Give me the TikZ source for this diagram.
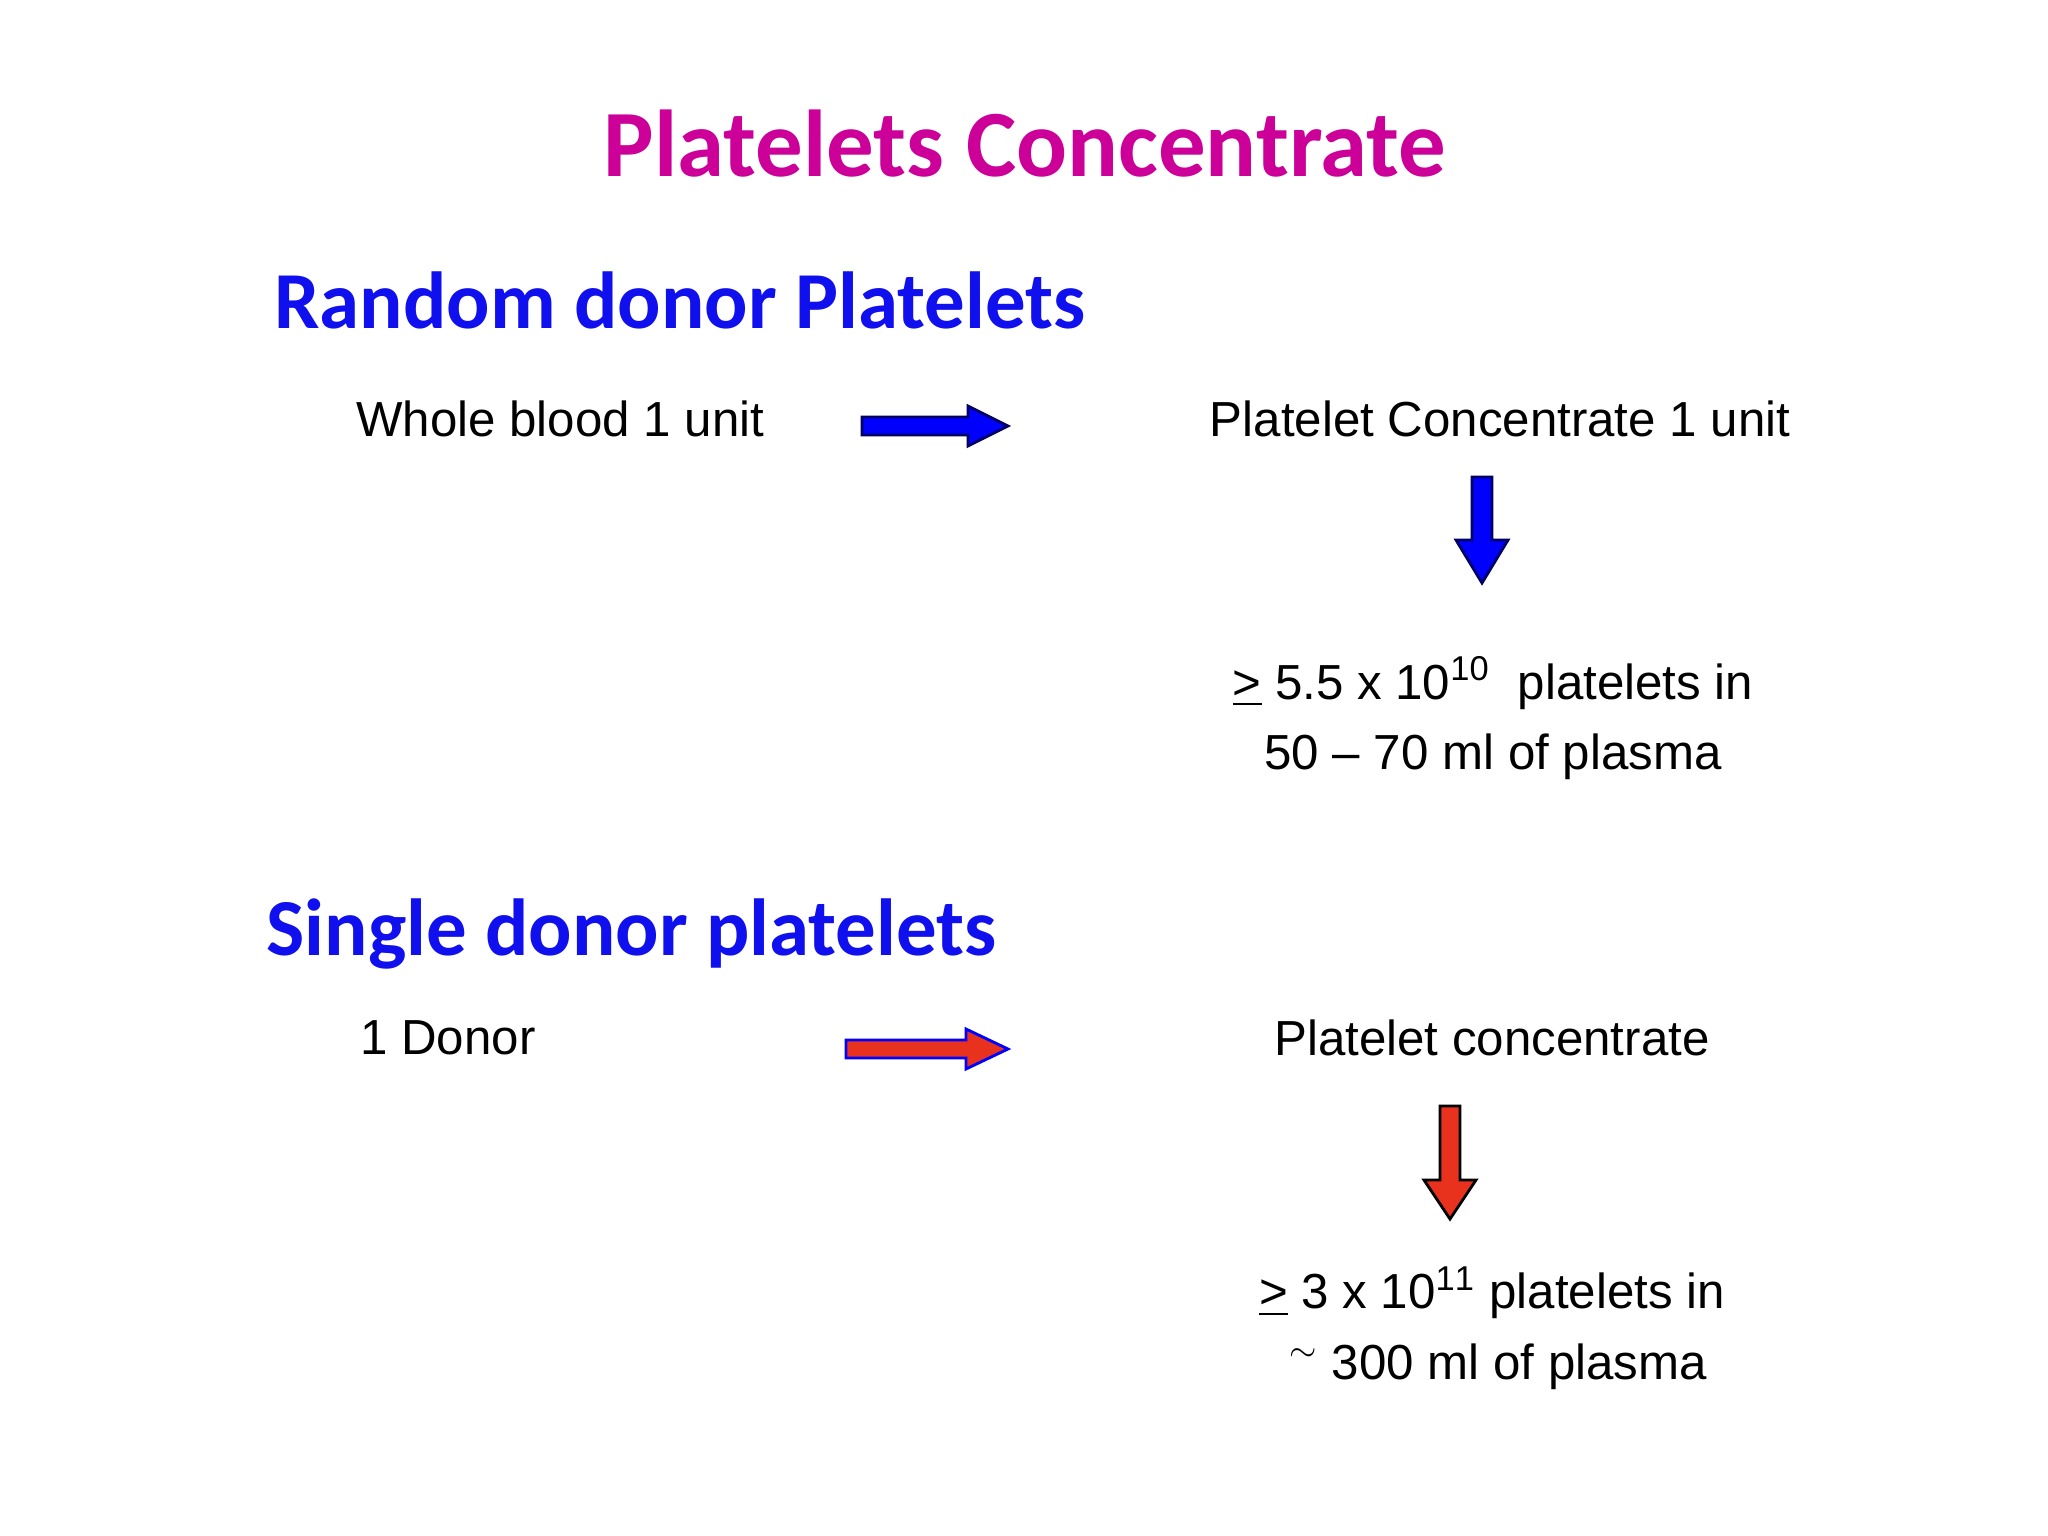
\documentclass[tikz,border=0pt]{standalone}
\usepackage{fontspec}
\setmainfont{Liberation Sans}
\newfontfamily\hdfont{Carlito}
\definecolor{ttl}{HTML}{CC0099}
\definecolor{hblue}{HTML}{1010EE}
\definecolor{ared}{HTML}{E8321E}
\begin{document}
\begin{tikzpicture}[x=0.01cm,y=-0.01cm,
  title/.style={font=\hdfont\bfseries\fontsize{27}{30}\selectfont,text=ttl},
  head/.style={font=\hdfont\bfseries\fontsize{23}{26}\selectfont,text=hblue,anchor=west},
  body/.style={font=\fontsize{14}{17}\selectfont},
  barrow/.style={fill=blue,draw=blue!40!black,line width=0.8pt},
  rarrow/.style={fill=ared,draw=blue,line width=0.8pt},
  rarrowd/.style={fill=ared,draw=black,line width=0.8pt}]
\useasboundingbox (0,0) rectangle (2048,1536);
\node[title] (t) at (1025,144) {Platelets Concentrate};
\node[head] (h1) at (262,300) {Random donor Platelets};
\node[body,anchor=west] (wb) at (344,419) {Whole blood 1 unit};
\node[body] (pc1) at (1500,419) {Platelet Concentrate 1 unit};
\node[body] (r1) at (1493,683) {\underline{>} 5.5 x 10$^{\mathrm{10}}$\ \ platelets in};
\node[body] (r2) at (1493,757) {50 -- 70 ml of plasma};
\node[head] (h2) at (254,934) {Single donor platelets};
\node[body,anchor=west] (d1) at (348,1038) {1 Donor};
\node[body] (pc2) at (1492,1038) {Platelet concentrate};
\node[body] (s1) at (1492,1293) {\underline{>} 3 x 10$^{\mathrm{11}}$ platelets in};
\node[body] (s2) at (1498,1367) {$^{\sim}$ 300 ml of plasma};
\draw[barrow] (862,417)--(968,417)--(968,406)--(1008,426)--(968,446)--(968,435)--(862,435)--cycle;
\draw[barrow] (1472,477)--(1492,477)--(1492,540)--(1508,540)--(1482,583)--(1456,540)--(1472,540)--cycle;
\draw[rarrow] (846,1040)--(966,1040)--(966,1029)--(1008,1049)--(966,1069)--(966,1058)--(846,1058)--cycle;
\draw[rarrowd] (1440,1106)--(1460,1106)--(1460,1180)--(1476,1180)--(1450,1219)--(1424,1180)--(1440,1180)--cycle;
\end{tikzpicture}
\end{document}
